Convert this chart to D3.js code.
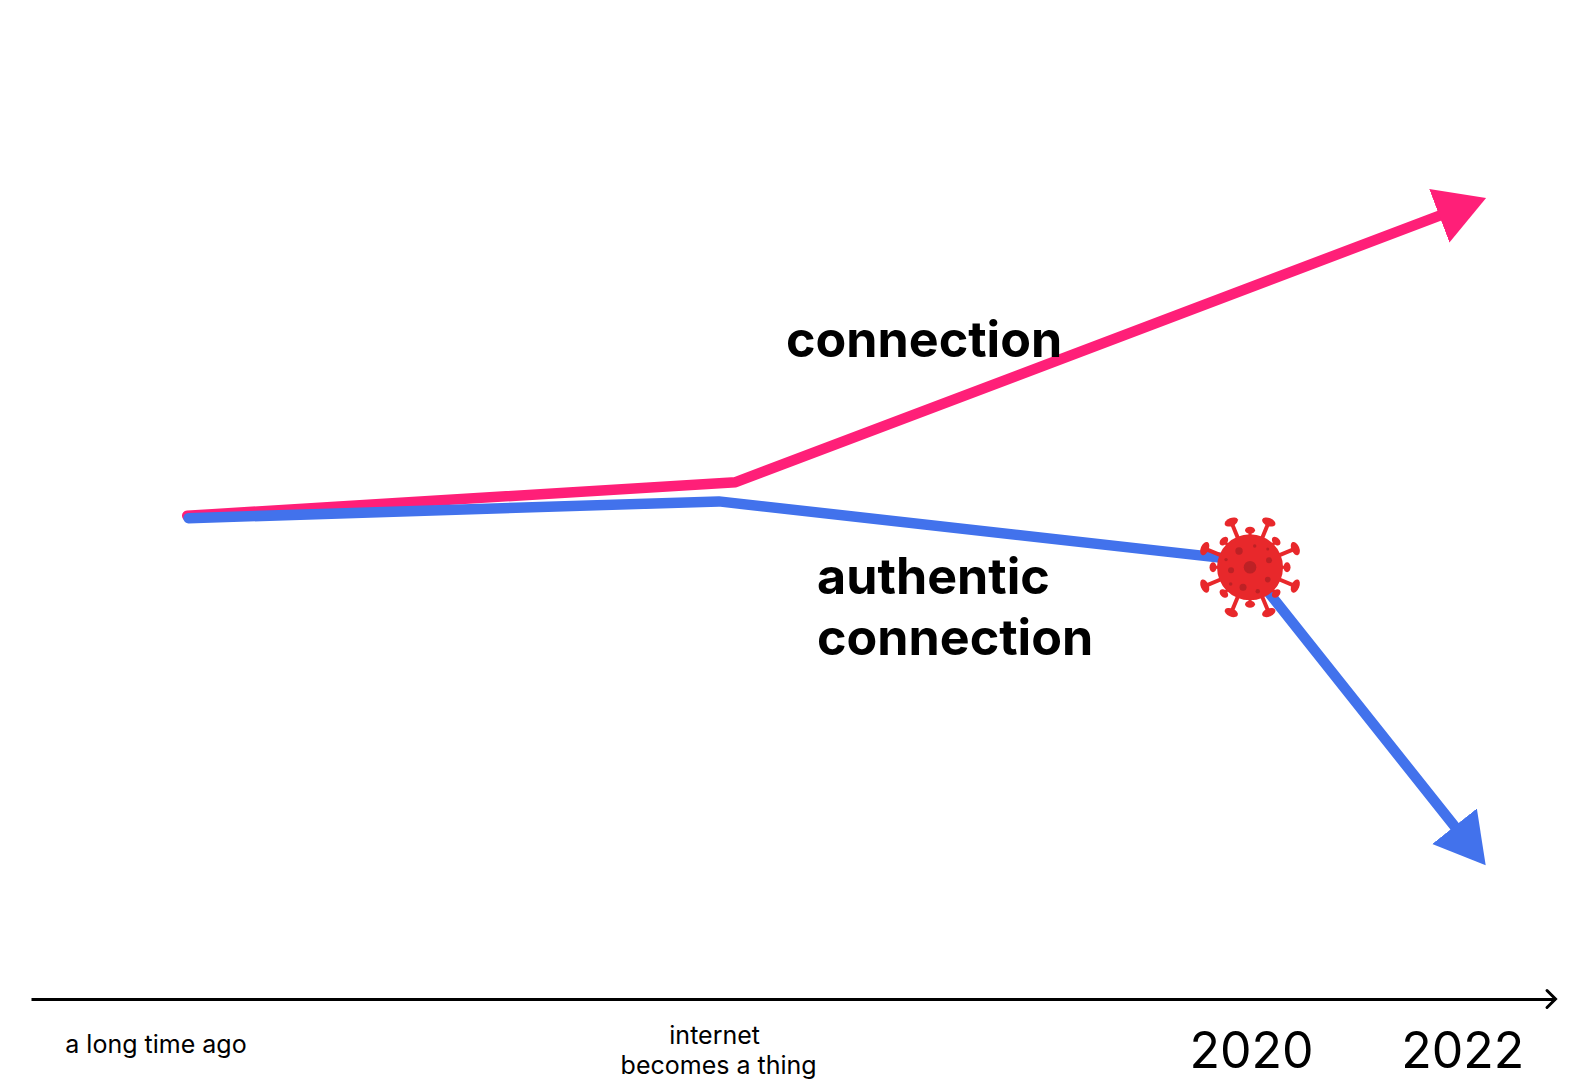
<!DOCTYPE html>
<html>
<head>
<meta charset="utf-8">
<script src="https://cdn.jsdelivr.net/npm/d3@7"></script>
<style>
	html, body { margin: 0; padding: 0; background: #fff; }
	svg { display: block; }
	text { font-family: Inter, "Noto Sans", sans-serif; fill: #000; }
</style>
</head>
<body>
<script>
//-----------------------------------------------------------------------------------------DATA
var connectionX = [11.9, 54.2, 108.55];
var connectionY = [60.4, 64.6, 97.95];

// the line bends behind the virus, so it has two points there
var authenticX = [12.0, 52.9, 93.6, 93.8, 109.7];
var authenticY = [60.1, 62.2, 54.8, 53.9, 21.5];

var tickValues = [9.45, 52.85, 93.95, 110.25];
var tickLabels = ["a long time ago", "internet\nbecomes a thing", "2020", "2022"];

var seriesNames = ["connection", "authentic\nconnection"];
var virusAt = [93.8, 53.9];

// virus icon, in px around its centre
var spikeLongAngles = [22.5, 67.5, 112.5, 157.5, 202.5, 247.5, 292.5, 337.5];
var spikeShortAngles = [0, 45, 90, 135, 180, 225, 270, 315];
var spotsDx = [0, -11, 19, -19, 17.7, -7, 7.7, -19.3, -24, 4.7, 17.7];
var spotsDy = [0, -16.3, -7, 3, 12.3, 20, 24, 16.7, -7.7, -21.3, -18.3];
var spotsR = [6.3, 3.7, 3, 3, 2.8, 3.5, 2.2, 1.7, 1.7, 1.7, 1.5];

//-----------------------------------------------------------------------------------------SETUP
var width = 1571, height = 1090;
var pink = "#FF1F78", blue = "#4272EC", red = "#E8282B", darkRed = "#BD2125";

var x = d3.scaleLinear().domain([-0.15, 117.4]).range([31, 1555]);
var y = d3.scaleLinear().domain([0, 100]).range([999, 199]);

var svg = d3.select("body").append("svg").attr("width", width).attr("height", height);
var defs = svg.append("defs");

function addHead(id, color){
	defs.append("marker")
		.attr("id", id)
		.attr("markerUnits", "userSpaceOnUse")
		.attr("markerWidth", 60).attr("markerHeight", 60)
		.attr("refX", 1).attr("refY", 30)
		.attr("orient", "auto")
		.append("path")
		.attr("d", "M0,1.5L50,30L0,58.5Z")
		.attr("fill", color);
}
addHead("headPink", pink);
addHead("headBlue", blue);

var line = d3.line().x(function(d){ return x(d[0]); }).y(function(d){ return y(d[1]); });

//-----------------------------------------------------------------------------------------AXIS
var axis = d3.axisBottom(x)
	.tickValues(tickValues)
	.tickSize(0)
	.tickFormat(function(d, i){ return tickLabels[i]; });

var axisG = svg.append("g").attr("transform", "translate(0," + y(0) + ")").call(axis);
axisG.select(".domain").attr("stroke", "#000").attr("stroke-width", 3);

axisG.selectAll(".tick text").each(function(d, i){
	var parts = tickLabels[i].split("\n");
	var t = d3.select(this).text(null).attr("y", null).attr("dy", null);
	var big = i >= 2;
	t.style("font-size", (big ? 50 : 25) + "px");
	var baselines = i == 0 ? [54] : (i == 1 ? [45, 75] : [69]);
	parts.forEach(function(p, k){
		t.append("tspan").attr("x", i == 1 && k == 0 ? -4 : 0).attr("y", baselines[k]).text(p);
	});
});

// open arrow end of the time axis
svg.append("path")
	.attr("d", "M1547,990.5L1555.5,999L1547,1007.5")
	.attr("fill", "none").attr("stroke", "#000").attr("stroke-width", 3).attr("stroke-linecap", "round");

//-----------------------------------------------------------------------------------------LINES
svg.append("path")
	.attr("d", line(d3.zip(connectionX, connectionY)))
	.attr("fill", "none").attr("stroke", pink).attr("stroke-width", 10.5)
	.attr("stroke-linecap", "round").attr("stroke-linejoin", "round")
	.attr("marker-end", "url(#headPink)");

svg.append("path")
	.attr("d", line(d3.zip(authenticX, authenticY)))
	.attr("fill", "none").attr("stroke", blue).attr("stroke-width", 10.5)
	.attr("stroke-linecap", "round").attr("stroke-linejoin", "round")
	.attr("marker-end", "url(#headBlue)");

//-----------------------------------------------------------------------------------------LABELS
svg.append("text").attr("x", 786).attr("y", 357)
	.style("font-size", "50.2px").style("font-weight", 700).text(seriesNames[0]);

var second = svg.append("text").style("font-size", "50.2px").style("font-weight", 700);
seriesNames[1].split("\n").forEach(function(p, k){
	second.append("tspan").attr("x", 817).attr("y", 594 + k * 61).text(p);
});

//-----------------------------------------------------------------------------------------VIRUS
var virus = svg.append("g").attr("transform", "translate(" + (x(virusAt[0]) + 1) + "," + (y(virusAt[1]) - 0.5) + ")");

function addSpikes(angles, len, bulbX, bulbY, w){
	virus.selectAll(null).data(angles).enter().append("g")
		.attr("transform", function(d){ return "rotate(" + d + ")"; })
		.each(function(){
			var g = d3.select(this);
			g.append("rect").attr("x", 28).attr("y", -w / 2).attr("width", len - 28).attr("height", w).attr("fill", red);
			g.append("ellipse").attr("cx", len).attr("cy", 0).attr("rx", bulbX).attr("ry", bulbY).attr("fill", red);
		});
}
addSpikes(spikeLongAngles, 49, 4, 7, 4);
addSpikes(spikeShortAngles, 37, 3.5, 5, 3);

virus.append("circle").attr("r", 33).attr("fill", red);

virus.selectAll("circle.spot").data(spotsR).enter().append("circle")
	.attr("class", "spot")
	.attr("cx", function(d, i){ return spotsDx[i]; })
	.attr("cy", function(d, i){ return spotsDy[i]; })
	.attr("r", function(d){ return d; })
	.attr("fill", darkRed);
</script>
</body>
</html>
